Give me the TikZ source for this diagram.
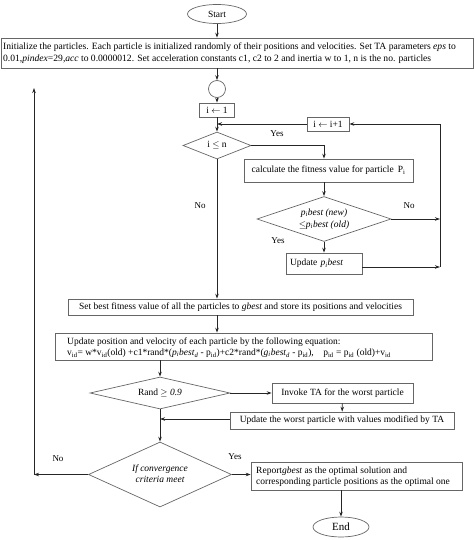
\documentclass[tikz,border=0pt]{standalone}
\usepackage{fontspec}
\setmainfont{Liberation Serif}
\usetikzlibrary{shapes.geometric,arrows.meta}
\begin{document}
\begin{tikzpicture}[x=1pt,y=-1pt,
  every node/.style={font=\fontsize{9.5}{11.5}\selectfont, inner sep=0pt},
  box/.style={draw=black!60, line width=0.7pt, rectangle},
  dia/.style={draw=black!60, line width=0.7pt, diamond, aspect=2},
  ell/.style={draw=black!60, line width=0.7pt, ellipse},
  lbl/.style={font=\fontsize{9}{11}\selectfont},
  conn/.style={draw=black!85, line width=0.8pt, -{Stealth[length=5pt,width=3.5pt]}},
  wire/.style={draw=black!85, line width=0.8pt}]
\useasboundingbox (0,0) rectangle (474,540);
% nodes
\node[ell, minimum width=59pt, minimum height=19pt] (start) at (217,14) {Start};
\node[box, minimum width=472pt, minimum height=30pt] (init) at (237,53) {};
\node[align=left, anchor=west, font=\fontsize{9.6}{12.5}\selectfont] (inittxt) at (3,53)
 {Initialize the particles. Each particle is initialized randomly of their positions and velocities. Set TA parameters \textit{eps} to\\
 0.01,\textit{pindex}=29,\textit{acc} to 0.0000012. Set acceleration constants c1, c2 to 2 and inertia w to 1, n is the no. particles};
\node[draw=black!60, line width=0.7pt, circle, minimum size=17pt] (cir) at (217,89) {};
\node[box, minimum width=35pt, minimum height=14pt] (i1) at (217,110) {i $\leftarrow$ 1};
\coordinate (m) at (217,124);
\node[box, minimum width=42pt, minimum height=14pt] (iinc) at (328,124) {i $\leftarrow$ i+1};
\node[dia, minimum width=68pt, minimum height=27pt] (d1) at (217,145.5) {i $\leq$ n};
\node[box, minimum width=169pt, minimum height=23pt] (calc) at (328.5,170.5) {calculate the fitness value for particle\, P\textsubscript{i}};
\node[dia, aspect=3, minimum width=134pt, minimum height=45pt] (d2) at (324,219)
  {\begin{tabular}{@{}c@{}}\itshape p\textsubscript{i}best (new)\\ \itshape $\leq$p\textsubscript{i}best (old)\end{tabular}};
\node[box, minimum width=76pt, minimum height=21pt, text width=68pt, align=left] (upd) at (324,263.5) {Update \textit{p\textsubscript{i}best}};
\coordinate (r1) at (440,124);
\coordinate (r2) at (440,219);
\coordinate (r3) at (440,267);
\node[box, minimum width=345pt, minimum height=16pt] (gb) at (240.5,307) {Set best fitness value of all the particles to \textit{gbest} and store its positions and velocities};
\node[box, minimum width=377pt, minimum height=27pt] (upv) at (243.5,346.5) {};
\node[align=left, anchor=west] (upvtxt) at (67,347.5) {Update position and velocity of each particle by the following equation:\\
 v\textsubscript{id}= w*v\textsubscript{id}(old) +c1*rand*(\textit{p\textsubscript{i}best\textsubscript{d}} - p\textsubscript{id})+c2*rand*(\textit{g\textsubscript{i}best\textsubscript{d}} - p\textsubscript{id}),\quad p\textsubscript{id} = p\textsubscript{id} (old)+v\textsubscript{id}};
\node[dia, aspect=4, minimum width=140pt, minimum height=32pt] (rand) at (160,393) {Rand $\geq$ \textit{0.9}};
\node[box, minimum width=141pt, minimum height=20pt] (inv) at (342.5,393) {Invoke TA for the worst particle};
\node[box, minimum width=224pt, minimum height=17pt] (uw) at (342,420.5) {Update the worst particle with values modified by TA};
\coordinate (jw) at (160,419);
\node[dia, aspect=2.2, minimum width=143pt, minimum height=65pt] (conv) at (160,474.5)
  {\begin{tabular}{@{}c@{}}\itshape If convergence\\ \itshape criteria meet\end{tabular}};
\node[box, minimum width=211pt, minimum height=28pt] (rep) at (356.5,476) {};
\node[align=left, anchor=west] (reptxt) at (256,476.5) {Report\textit{gbest} as the optimal solution and\\ corresponding particle positions as the optimal one};
\node[ell, minimum width=56pt, minimum height=20pt, font=\fontsize{11}{13}\selectfont] (end) at (341,527) {End};
\coordinate (l1) at (34,474.5);
\coordinate (l2) at (34,88);
% labels
\node[lbl] at (277,134) {Yes};
\node[lbl] at (200,206) {No};
\node[lbl] at (409,206) {No};
\node[lbl] at (278,241) {Yes};
\node[lbl] at (58,459) {No};
\node[lbl] at (235,457) {Yes};
% connectors
\draw[conn] (start) -- (init.north -| start.south);
\draw[conn] (init.south -| cir.north) -- (cir.north);
\draw[conn] (cir) -- (i1);
\draw[conn] (i1) -- (d1);
\draw[conn] (iinc) -- (m);
\draw[conn] (r1) -- (iinc);
\draw[wire] (r3) -- (r1);
\draw[conn] (d1.east) -| (calc.north -| d2.north);
\draw[conn] (calc.south -| d2.north) -- (d2.north);
\draw[conn] (d2.east) -- (r2);
\draw[conn] (d2) -- (upd);
\draw[conn] (upd.east |- r3) -- (r3);
\draw[conn] (d1) -- (gb.north -| d1.south);
\draw[conn] (gb.south -| d1.south) -- (upv.north -| d1.south);
\draw[conn] (upv.south -| rand.north) -- (rand.north);
\draw[conn] (rand) -- (inv);
\draw[conn] (inv) -- (uw);
\draw[conn] (uw.west |- jw) -- (jw);
\draw[conn] (rand) -- (conv);
\draw[conn] (conv) -- (rep.west |- conv.east);
\draw[conn] (rep.south -| end.north) -- (end);
\draw[conn] (conv) -- (l1);
\draw[conn] (l1) -- (l2);
\end{tikzpicture}
\end{document}
